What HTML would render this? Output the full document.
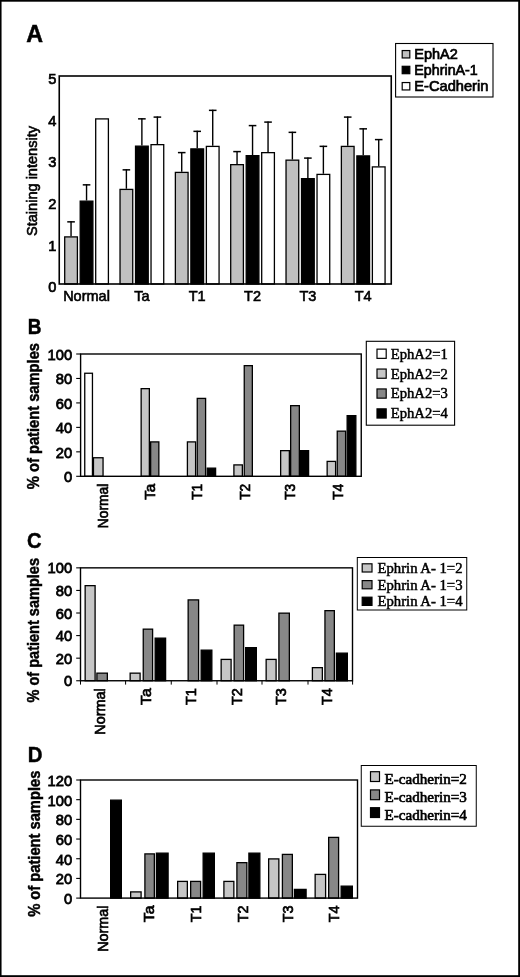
<!DOCTYPE html>
<html lang="en"><head><meta charset="utf-8"><title>Figure</title>
<style>
html,body{margin:0;padding:0;background:#fff;}
body{width:520px;height:977px;overflow:hidden;}
svg{display:block;}
.fs{font-family:"Liberation Sans", Arial, Helvetica, sans-serif;fill:#000;}
.fr{font-family:"Liberation Serif", "Times New Roman", Times, serif;fill:#000;}
</style></head><body>
<svg width="520" height="977" viewBox="0 0 520 977">
<rect width="520" height="977" fill="#fff"/>
<rect x="0" y="0" width="520" height="1.7" fill="#000"/>
<rect x="0" y="0" width="1.55" height="977" fill="#000"/>
<rect x="518.2" y="0" width="1.8" height="977" fill="#000"/>
<rect x="0" y="975.2" width="520" height="1.8" fill="#000"/>
<text class="fs" x="26.3" y="41.6" font-size="23.2" font-weight="bold" stroke="#000" stroke-width="0.5">A</text>
<rect x="64.70" y="236.90" width="12.70" height="47.10" fill="#c0c0c0" stroke="#000" stroke-width="1.3"/>
<line x1="71.05" y1="236.25" x2="71.05" y2="221.25" stroke="#000" stroke-width="1.4"/>
<line x1="67.25" y1="221.85" x2="74.85" y2="221.85" stroke="#000" stroke-width="1.5"/>
<rect x="80.20" y="201.15" width="12.70" height="82.85" fill="#000" stroke="#000" stroke-width="1.3"/>
<line x1="86.55" y1="200.50" x2="86.55" y2="184.25" stroke="#000" stroke-width="1.4"/>
<line x1="82.75" y1="184.85" x2="90.35" y2="184.85" stroke="#000" stroke-width="1.5"/>
<rect x="95.70" y="118.90" width="12.70" height="165.10" fill="#fff" stroke="#000" stroke-width="1.3"/>
<rect x="120.03" y="189.40" width="12.70" height="94.60" fill="#c0c0c0" stroke="#000" stroke-width="1.3"/>
<line x1="126.38" y1="188.75" x2="126.38" y2="169.25" stroke="#000" stroke-width="1.4"/>
<line x1="122.58" y1="169.85" x2="130.18" y2="169.85" stroke="#000" stroke-width="1.5"/>
<rect x="135.53" y="146.15" width="12.70" height="137.85" fill="#000" stroke="#000" stroke-width="1.3"/>
<line x1="141.88" y1="145.50" x2="141.88" y2="118.25" stroke="#000" stroke-width="1.4"/>
<line x1="138.08" y1="118.85" x2="145.68" y2="118.85" stroke="#000" stroke-width="1.5"/>
<rect x="151.03" y="144.65" width="12.70" height="139.35" fill="#fff" stroke="#000" stroke-width="1.3"/>
<line x1="157.38" y1="144.00" x2="157.38" y2="116.50" stroke="#000" stroke-width="1.4"/>
<line x1="153.58" y1="117.10" x2="161.18" y2="117.10" stroke="#000" stroke-width="1.5"/>
<rect x="175.37" y="172.40" width="12.70" height="111.60" fill="#c0c0c0" stroke="#000" stroke-width="1.3"/>
<line x1="181.72" y1="171.75" x2="181.72" y2="152.00" stroke="#000" stroke-width="1.4"/>
<line x1="177.92" y1="152.60" x2="185.52" y2="152.60" stroke="#000" stroke-width="1.5"/>
<rect x="190.87" y="148.90" width="12.70" height="135.10" fill="#000" stroke="#000" stroke-width="1.3"/>
<line x1="197.22" y1="148.25" x2="197.22" y2="130.75" stroke="#000" stroke-width="1.4"/>
<line x1="193.42" y1="131.35" x2="201.02" y2="131.35" stroke="#000" stroke-width="1.5"/>
<rect x="206.37" y="146.40" width="12.70" height="137.60" fill="#fff" stroke="#000" stroke-width="1.3"/>
<line x1="212.72" y1="145.75" x2="212.72" y2="109.75" stroke="#000" stroke-width="1.4"/>
<line x1="208.92" y1="110.35" x2="216.52" y2="110.35" stroke="#000" stroke-width="1.5"/>
<rect x="230.70" y="164.65" width="12.70" height="119.35" fill="#c0c0c0" stroke="#000" stroke-width="1.3"/>
<line x1="237.05" y1="164.00" x2="237.05" y2="151.00" stroke="#000" stroke-width="1.4"/>
<line x1="233.25" y1="151.60" x2="240.85" y2="151.60" stroke="#000" stroke-width="1.5"/>
<rect x="246.20" y="155.65" width="12.70" height="128.35" fill="#000" stroke="#000" stroke-width="1.3"/>
<line x1="252.55" y1="155.00" x2="252.55" y2="125.00" stroke="#000" stroke-width="1.4"/>
<line x1="248.75" y1="125.60" x2="256.35" y2="125.60" stroke="#000" stroke-width="1.5"/>
<rect x="261.70" y="152.65" width="12.70" height="131.35" fill="#fff" stroke="#000" stroke-width="1.3"/>
<line x1="268.05" y1="152.00" x2="268.05" y2="121.50" stroke="#000" stroke-width="1.4"/>
<line x1="264.25" y1="122.10" x2="271.85" y2="122.10" stroke="#000" stroke-width="1.5"/>
<rect x="286.03" y="160.15" width="12.70" height="123.85" fill="#c0c0c0" stroke="#000" stroke-width="1.3"/>
<line x1="292.38" y1="159.50" x2="292.38" y2="131.75" stroke="#000" stroke-width="1.4"/>
<line x1="288.58" y1="132.35" x2="296.18" y2="132.35" stroke="#000" stroke-width="1.5"/>
<rect x="301.53" y="178.65" width="12.70" height="105.35" fill="#000" stroke="#000" stroke-width="1.3"/>
<line x1="307.88" y1="178.00" x2="307.88" y2="157.50" stroke="#000" stroke-width="1.4"/>
<line x1="304.08" y1="158.10" x2="311.68" y2="158.10" stroke="#000" stroke-width="1.5"/>
<rect x="317.03" y="174.40" width="12.70" height="109.60" fill="#fff" stroke="#000" stroke-width="1.3"/>
<line x1="323.38" y1="173.75" x2="323.38" y2="145.75" stroke="#000" stroke-width="1.4"/>
<line x1="319.58" y1="146.35" x2="327.18" y2="146.35" stroke="#000" stroke-width="1.5"/>
<rect x="341.37" y="146.40" width="12.70" height="137.60" fill="#c0c0c0" stroke="#000" stroke-width="1.3"/>
<line x1="347.72" y1="145.75" x2="347.72" y2="116.50" stroke="#000" stroke-width="1.4"/>
<line x1="343.92" y1="117.10" x2="351.52" y2="117.10" stroke="#000" stroke-width="1.5"/>
<rect x="356.87" y="155.90" width="12.70" height="128.10" fill="#000" stroke="#000" stroke-width="1.3"/>
<line x1="363.22" y1="155.25" x2="363.22" y2="128.25" stroke="#000" stroke-width="1.4"/>
<line x1="359.42" y1="128.85" x2="367.02" y2="128.85" stroke="#000" stroke-width="1.5"/>
<rect x="372.37" y="166.90" width="12.70" height="117.10" fill="#fff" stroke="#000" stroke-width="1.3"/>
<line x1="378.72" y1="166.25" x2="378.72" y2="139.00" stroke="#000" stroke-width="1.4"/>
<line x1="374.92" y1="139.60" x2="382.52" y2="139.60" stroke="#000" stroke-width="1.5"/>
<rect x="59.25" y="76" width="332.0" height="208" fill="none" stroke="#000" stroke-width="1.6"/>
<text class="fs" x="56.4" y="292.1" font-size="14.6" text-anchor="end" stroke="#000" stroke-width="0.7">0</text>
<text class="fs" x="56.4" y="250.5" font-size="14.6" text-anchor="end" stroke="#000" stroke-width="0.7">1</text>
<text class="fs" x="56.4" y="208.9" font-size="14.6" text-anchor="end" stroke="#000" stroke-width="0.7">2</text>
<text class="fs" x="56.4" y="167.3" font-size="14.6" text-anchor="end" stroke="#000" stroke-width="0.7">3</text>
<text class="fs" x="56.4" y="125.7" font-size="14.6" text-anchor="end" stroke="#000" stroke-width="0.7">4</text>
<text class="fs" x="56.4" y="84.1" font-size="14.6" text-anchor="end" stroke="#000" stroke-width="0.7">5</text>
<text class="fs" x="0" y="0" transform="translate(37.2,181) rotate(-90)" font-size="14.5" text-anchor="middle" textLength="110" lengthAdjust="spacingAndGlyphs" stroke="#000" stroke-width="0.6">Staining intensity</text>
<text class="fs" x="86.52" y="301.3" font-size="14.5" text-anchor="middle" stroke="#000" stroke-width="0.6">Normal</text>
<text class="fs" x="141.85" y="301.3" font-size="14.5" text-anchor="middle" stroke="#000" stroke-width="0.6">Ta</text>
<text class="fs" x="197.18" y="301.3" font-size="14.5" text-anchor="middle" stroke="#000" stroke-width="0.6">T1</text>
<text class="fs" x="252.52" y="301.3" font-size="14.5" text-anchor="middle" stroke="#000" stroke-width="0.6">T2</text>
<text class="fs" x="307.85" y="301.3" font-size="14.5" text-anchor="middle" stroke="#000" stroke-width="0.6">T3</text>
<text class="fs" x="363.18" y="301.3" font-size="14.5" text-anchor="middle" stroke="#000" stroke-width="0.6">T4</text>
<rect x="395.6" y="43.5" width="97.39999999999998" height="53.5" fill="none" stroke="#000" stroke-width="1.1"/>
<rect x="402.2" y="50.55" width="7.6" height="7.4" fill="#c0c0c0" stroke="#000" stroke-width="1.2"/>
<text class="fs" x="414.3" y="59.25" font-size="14.5" textLength="43.5" lengthAdjust="spacingAndGlyphs" stroke="#000" stroke-width="0.7">EphA2</text>
<rect x="402.2" y="66.3" width="7.6" height="7.4" fill="#000" stroke="#000" stroke-width="1.2"/>
<text class="fs" x="414.3" y="75.0" font-size="14.5" textLength="63.5" lengthAdjust="spacingAndGlyphs" stroke="#000" stroke-width="0.7">EphrinA-1</text>
<rect x="402.2" y="82.55" width="7.6" height="7.4" fill="#fff" stroke="#000" stroke-width="1.2"/>
<text class="fs" x="414.3" y="91.25" font-size="14.5" textLength="74" lengthAdjust="spacingAndGlyphs" stroke="#000" stroke-width="0.7">E-Cadherin</text>
<text class="fs" x="27.8" y="333.6" font-size="22" font-weight="bold" textLength="13.7" lengthAdjust="spacingAndGlyphs" stroke="#000" stroke-width="0.5">B</text>
<rect x="84.75" y="373.25" width="7.70" height="103.05" fill="#fff" stroke="#000" stroke-width="1.3"/>
<rect x="93.45" y="457.75" width="9.60" height="18.55" fill="#c6c6c6" stroke="#000" stroke-width="1.3"/>
<rect x="141.15" y="388.65" width="8.20" height="87.65" fill="#c6c6c6" stroke="#000" stroke-width="1.3"/>
<rect x="150.65" y="441.90" width="8.20" height="34.40" fill="#878787" stroke="#000" stroke-width="1.3"/>
<rect x="187.40" y="441.90" width="8.20" height="34.40" fill="#c6c6c6" stroke="#000" stroke-width="1.3"/>
<rect x="197.25" y="398.40" width="8.35" height="77.90" fill="#878787" stroke="#000" stroke-width="1.3"/>
<rect x="207.25" y="468.15" width="8.35" height="8.15" fill="#000" stroke="#000" stroke-width="1.3"/>
<rect x="233.90" y="464.90" width="8.45" height="11.40" fill="#c6c6c6" stroke="#000" stroke-width="1.3"/>
<rect x="244.25" y="365.65" width="8.10" height="110.65" fill="#878787" stroke="#000" stroke-width="1.3"/>
<rect x="280.65" y="450.65" width="8.70" height="25.65" fill="#c6c6c6" stroke="#000" stroke-width="1.3"/>
<rect x="290.65" y="405.65" width="8.70" height="70.65" fill="#878787" stroke="#000" stroke-width="1.3"/>
<rect x="300.65" y="450.65" width="7.95" height="25.65" fill="#000" stroke="#000" stroke-width="1.3"/>
<rect x="327.15" y="461.40" width="8.45" height="14.90" fill="#c6c6c6" stroke="#000" stroke-width="1.3"/>
<rect x="337.25" y="431.15" width="8.35" height="45.15" fill="#878787" stroke="#000" stroke-width="1.3"/>
<rect x="347.15" y="415.65" width="8.70" height="60.65" fill="#000" stroke="#000" stroke-width="1.3"/>
<rect x="80.6" y="354" width="280.65" height="122.30000000000001" fill="none" stroke="#000" stroke-width="1.4"/>
<line x1="76.20" y1="476.30" x2="80.60" y2="476.30" stroke="#000" stroke-width="1.1"/>
<text class="fs" x="0" y="0" transform="translate(72.2,482.1) scale(0.96,1)" font-size="15.4" text-anchor="end" stroke="#000" stroke-width="0.8">0</text>
<line x1="76.20" y1="451.84" x2="80.60" y2="451.84" stroke="#000" stroke-width="1.1"/>
<text class="fs" x="0" y="0" transform="translate(72.2,457.64) scale(0.96,1)" font-size="15.4" text-anchor="end" stroke="#000" stroke-width="0.8">20</text>
<line x1="76.20" y1="427.38" x2="80.60" y2="427.38" stroke="#000" stroke-width="1.1"/>
<text class="fs" x="0" y="0" transform="translate(72.2,433.18) scale(0.96,1)" font-size="15.4" text-anchor="end" stroke="#000" stroke-width="0.8">40</text>
<line x1="76.20" y1="402.92" x2="80.60" y2="402.92" stroke="#000" stroke-width="1.1"/>
<text class="fs" x="0" y="0" transform="translate(72.2,408.72) scale(0.96,1)" font-size="15.4" text-anchor="end" stroke="#000" stroke-width="0.8">60</text>
<line x1="76.20" y1="378.46" x2="80.60" y2="378.46" stroke="#000" stroke-width="1.1"/>
<text class="fs" x="0" y="0" transform="translate(72.2,384.26) scale(0.96,1)" font-size="15.4" text-anchor="end" stroke="#000" stroke-width="0.8">80</text>
<line x1="76.20" y1="354.00" x2="80.60" y2="354.00" stroke="#000" stroke-width="1.1"/>
<text class="fs" x="0" y="0" transform="translate(72.2,359.8) scale(0.96,1)" font-size="15.4" text-anchor="end" stroke="#000" stroke-width="0.8">100</text>
<text class="fs" x="0" y="0" transform="translate(39.3,416.1) rotate(-90)" font-size="15.6" text-anchor="middle" font-weight="bold" textLength="146.2" lengthAdjust="spacingAndGlyphs" stroke="#000" stroke-width="0.45">% of patient samples</text>
<text class="fs" x="0" y="0" transform="translate(108.3,483.8) rotate(-90)" font-size="15.0" text-anchor="end" textLength="44.37" lengthAdjust="spacingAndGlyphs" stroke="#000" stroke-width="0.7">Normal</text>
<text class="fs" x="0" y="0" transform="translate(155.1,483.8) rotate(-90)" font-size="15.0" text-anchor="end" textLength="16.07" lengthAdjust="spacingAndGlyphs" stroke="#000" stroke-width="0.7">Ta</text>
<text class="fs" x="0" y="0" transform="translate(202.1,483.8) rotate(-90)" font-size="15.0" text-anchor="end" textLength="16.07" lengthAdjust="spacingAndGlyphs" stroke="#000" stroke-width="0.7">T1</text>
<text class="fs" x="0" y="0" transform="translate(249.5,483.8) rotate(-90)" font-size="15.0" text-anchor="end" textLength="16.07" lengthAdjust="spacingAndGlyphs" stroke="#000" stroke-width="0.7">T2</text>
<text class="fs" x="0" y="0" transform="translate(295.4,483.8) rotate(-90)" font-size="15.0" text-anchor="end" textLength="16.07" lengthAdjust="spacingAndGlyphs" stroke="#000" stroke-width="0.7">T3</text>
<text class="fs" x="0" y="0" transform="translate(342.8,483.8) rotate(-90)" font-size="15.0" text-anchor="end" textLength="16.07" lengthAdjust="spacingAndGlyphs" stroke="#000" stroke-width="0.7">T4</text>
<rect x="366.3" y="341.3" width="88.30000000000001" height="83.89999999999998" fill="none" stroke="#000" stroke-width="1.1"/>
<rect x="377.0" y="349.15" width="9.2" height="9.2" fill="#fff" stroke="#000" stroke-width="1.2"/>
<text class="fr" x="0" y="0" transform="translate(390.8,358.65) scale(1,0.93)" font-size="14.7" textLength="57" lengthAdjust="spacingAndGlyphs" stroke="#000" stroke-width="0.5">EphA2=1</text>
<rect x="377.0" y="369.04999999999995" width="9.2" height="9.2" fill="#c6c6c6" stroke="#000" stroke-width="1.2"/>
<text class="fr" x="0" y="0" transform="translate(390.8,378.54999999999995) scale(1,0.93)" font-size="14.7" textLength="57" lengthAdjust="spacingAndGlyphs" stroke="#000" stroke-width="0.5">EphA2=2</text>
<rect x="377.0" y="388.95" width="9.2" height="9.2" fill="#878787" stroke="#000" stroke-width="1.2"/>
<text class="fr" x="0" y="0" transform="translate(390.8,398.45) scale(1,0.93)" font-size="14.7" textLength="57" lengthAdjust="spacingAndGlyphs" stroke="#000" stroke-width="0.5">EphA2=3</text>
<rect x="377.0" y="408.84999999999997" width="9.2" height="9.2" fill="#000" stroke="#000" stroke-width="1.2"/>
<text class="fr" x="0" y="0" transform="translate(390.8,418.34999999999997) scale(1,0.93)" font-size="14.7" textLength="57" lengthAdjust="spacingAndGlyphs" stroke="#000" stroke-width="0.5">EphA2=4</text>
<text class="fs" x="26.9" y="547.5" font-size="22.5" font-weight="bold" textLength="14.5" lengthAdjust="spacingAndGlyphs" stroke="#000" stroke-width="0.5">C</text>
<rect x="85.15" y="585.65" width="9.95" height="95.10" fill="#c6c6c6" stroke="#000" stroke-width="1.3"/>
<rect x="96.90" y="673.15" width="10.45" height="7.60" fill="#878787" stroke="#000" stroke-width="1.3"/>
<rect x="130.15" y="673.15" width="9.95" height="7.60" fill="#c6c6c6" stroke="#000" stroke-width="1.3"/>
<rect x="143.25" y="629.15" width="9.35" height="51.60" fill="#878787" stroke="#000" stroke-width="1.3"/>
<rect x="155.15" y="638.15" width="10.45" height="42.60" fill="#000" stroke="#000" stroke-width="1.3"/>
<rect x="188.15" y="599.90" width="10.45" height="80.85" fill="#878787" stroke="#000" stroke-width="1.3"/>
<rect x="201.15" y="650.15" width="10.70" height="30.60" fill="#000" stroke="#000" stroke-width="1.3"/>
<rect x="221.15" y="659.40" width="9.95" height="21.35" fill="#c6c6c6" stroke="#000" stroke-width="1.3"/>
<rect x="234.15" y="625.15" width="9.45" height="55.60" fill="#878787" stroke="#000" stroke-width="1.3"/>
<rect x="245.65" y="647.65" width="10.70" height="33.10" fill="#000" stroke="#000" stroke-width="1.3"/>
<rect x="266.15" y="659.40" width="9.95" height="21.35" fill="#c6c6c6" stroke="#000" stroke-width="1.3"/>
<rect x="278.90" y="613.15" width="10.45" height="67.60" fill="#878787" stroke="#000" stroke-width="1.3"/>
<rect x="312.40" y="667.65" width="9.95" height="13.10" fill="#c6c6c6" stroke="#000" stroke-width="1.3"/>
<rect x="324.95" y="610.65" width="9.40" height="70.10" fill="#878787" stroke="#000" stroke-width="1.3"/>
<rect x="336.40" y="653.15" width="10.95" height="27.60" fill="#000" stroke="#000" stroke-width="1.3"/>
<rect x="80.5" y="567.85" width="272.0" height="112.89999999999998" fill="none" stroke="#000" stroke-width="1.4"/>
<line x1="76.20" y1="680.75" x2="80.50" y2="680.75" stroke="#000" stroke-width="1.1"/>
<text class="fs" x="0" y="0" transform="translate(72.2,686.25) scale(0.96,1)" font-size="15.4" text-anchor="end" stroke="#000" stroke-width="0.8">0</text>
<line x1="76.20" y1="658.17" x2="80.50" y2="658.17" stroke="#000" stroke-width="1.1"/>
<text class="fs" x="0" y="0" transform="translate(72.2,663.67) scale(0.96,1)" font-size="15.4" text-anchor="end" stroke="#000" stroke-width="0.8">20</text>
<line x1="76.20" y1="635.59" x2="80.50" y2="635.59" stroke="#000" stroke-width="1.1"/>
<text class="fs" x="0" y="0" transform="translate(72.2,641.09) scale(0.96,1)" font-size="15.4" text-anchor="end" stroke="#000" stroke-width="0.8">40</text>
<line x1="76.20" y1="613.01" x2="80.50" y2="613.01" stroke="#000" stroke-width="1.1"/>
<text class="fs" x="0" y="0" transform="translate(72.2,618.51) scale(0.96,1)" font-size="15.4" text-anchor="end" stroke="#000" stroke-width="0.8">60</text>
<line x1="76.20" y1="590.43" x2="80.50" y2="590.43" stroke="#000" stroke-width="1.1"/>
<text class="fs" x="0" y="0" transform="translate(72.2,595.93) scale(0.96,1)" font-size="15.4" text-anchor="end" stroke="#000" stroke-width="0.8">80</text>
<line x1="76.20" y1="567.85" x2="80.50" y2="567.85" stroke="#000" stroke-width="1.1"/>
<text class="fs" x="0" y="0" transform="translate(72.2,573.35) scale(0.96,1)" font-size="15.4" text-anchor="end" stroke="#000" stroke-width="0.8">100</text>
<line x1="80.50" y1="680.75" x2="80.50" y2="684.60" stroke="#000" stroke-width="1.0"/>
<line x1="125.60" y1="680.75" x2="125.60" y2="684.60" stroke="#000" stroke-width="1.0"/>
<line x1="171.25" y1="680.75" x2="171.25" y2="684.60" stroke="#000" stroke-width="1.0"/>
<line x1="217.00" y1="680.75" x2="217.00" y2="684.60" stroke="#000" stroke-width="1.0"/>
<line x1="262.00" y1="680.75" x2="262.00" y2="684.60" stroke="#000" stroke-width="1.0"/>
<line x1="308.00" y1="680.75" x2="308.00" y2="684.60" stroke="#000" stroke-width="1.0"/>
<line x1="352.60" y1="680.75" x2="352.60" y2="684.60" stroke="#000" stroke-width="1.0"/>
<text class="fs" x="0" y="0" transform="translate(39.3,630.25) rotate(-90)" font-size="15.6" text-anchor="middle" font-weight="bold" textLength="144.5" lengthAdjust="spacingAndGlyphs" stroke="#000" stroke-width="0.45">% of patient samples</text>
<text class="fs" x="0" y="0" transform="translate(105.4,688.2) rotate(-90)" font-size="15.0" text-anchor="end" textLength="46.49" lengthAdjust="spacingAndGlyphs" stroke="#000" stroke-width="0.7">Normal</text>
<text class="fs" x="0" y="0" transform="translate(151.2,688.2) rotate(-90)" font-size="15.0" text-anchor="end" textLength="16.84" lengthAdjust="spacingAndGlyphs" stroke="#000" stroke-width="0.7">Ta</text>
<text class="fs" x="0" y="0" transform="translate(195.8,688.2) rotate(-90)" font-size="15.0" text-anchor="end" textLength="16.84" lengthAdjust="spacingAndGlyphs" stroke="#000" stroke-width="0.7">T1</text>
<text class="fs" x="0" y="0" transform="translate(241.8,688.2) rotate(-90)" font-size="15.0" text-anchor="end" textLength="16.84" lengthAdjust="spacingAndGlyphs" stroke="#000" stroke-width="0.7">T2</text>
<text class="fs" x="0" y="0" transform="translate(286.4,688.2) rotate(-90)" font-size="15.0" text-anchor="end" textLength="16.84" lengthAdjust="spacingAndGlyphs" stroke="#000" stroke-width="0.7">T3</text>
<text class="fs" x="0" y="0" transform="translate(331.9,688.2) rotate(-90)" font-size="15.0" text-anchor="end" textLength="16.84" lengthAdjust="spacingAndGlyphs" stroke="#000" stroke-width="0.7">T4</text>
<rect x="357.3" y="557.5" width="109.44999999999999" height="52.5" fill="none" stroke="#000" stroke-width="1.0"/>
<rect x="362.2" y="563.8" width="9.8" height="8.2" fill="#c6c6c6" stroke="#000" stroke-width="1.2"/>
<text class="fr" x="0" y="0" transform="translate(377.5,572.8) scale(1,0.93)" font-size="14.6" textLength="85" lengthAdjust="spacingAndGlyphs" stroke="#000" stroke-width="0.5">Ephrin A- 1=2</text>
<rect x="362.2" y="580.6" width="9.8" height="8.2" fill="#878787" stroke="#000" stroke-width="1.2"/>
<text class="fr" x="0" y="0" transform="translate(377.5,589.6) scale(1,0.93)" font-size="14.6" textLength="85" lengthAdjust="spacingAndGlyphs" stroke="#000" stroke-width="0.5">Ephrin A- 1=3</text>
<rect x="362.2" y="597.2" width="9.8" height="8.2" fill="#000" stroke="#000" stroke-width="1.2"/>
<text class="fr" x="0" y="0" transform="translate(377.5,606.2) scale(1,0.93)" font-size="14.6" textLength="85" lengthAdjust="spacingAndGlyphs" stroke="#000" stroke-width="0.5">Ephrin A- 1=4</text>
<text class="fs" x="27.7" y="762.3" font-size="22.4" font-weight="bold" textLength="14.7" lengthAdjust="spacingAndGlyphs" stroke="#000" stroke-width="0.5">D</text>
<rect x="110.65" y="800.15" width="10.70" height="97.95" fill="#000" stroke="#000" stroke-width="1.3"/>
<rect x="130.65" y="891.90" width="10.45" height="6.20" fill="#c6c6c6" stroke="#000" stroke-width="1.3"/>
<rect x="144.90" y="853.90" width="9.45" height="44.20" fill="#878787" stroke="#000" stroke-width="1.3"/>
<rect x="156.40" y="853.15" width="11.70" height="44.95" fill="#000" stroke="#000" stroke-width="1.3"/>
<rect x="177.65" y="881.40" width="9.70" height="16.70" fill="#c6c6c6" stroke="#000" stroke-width="1.3"/>
<rect x="190.65" y="881.40" width="9.95" height="16.70" fill="#878787" stroke="#000" stroke-width="1.3"/>
<rect x="203.15" y="853.15" width="11.20" height="44.95" fill="#000" stroke="#000" stroke-width="1.3"/>
<rect x="223.90" y="881.40" width="9.95" height="16.70" fill="#c6c6c6" stroke="#000" stroke-width="1.3"/>
<rect x="236.90" y="862.65" width="9.95" height="35.45" fill="#878787" stroke="#000" stroke-width="1.3"/>
<rect x="248.90" y="853.15" width="10.95" height="44.95" fill="#000" stroke="#000" stroke-width="1.3"/>
<rect x="268.65" y="858.90" width="10.20" height="39.20" fill="#c6c6c6" stroke="#000" stroke-width="1.3"/>
<rect x="282.40" y="854.40" width="9.95" height="43.70" fill="#878787" stroke="#000" stroke-width="1.3"/>
<rect x="294.40" y="889.40" width="11.70" height="8.70" fill="#000" stroke="#000" stroke-width="1.3"/>
<rect x="315.15" y="874.40" width="10.45" height="23.70" fill="#c6c6c6" stroke="#000" stroke-width="1.3"/>
<rect x="328.65" y="837.40" width="9.95" height="60.70" fill="#878787" stroke="#000" stroke-width="1.3"/>
<rect x="341.15" y="886.15" width="11.20" height="11.95" fill="#000" stroke="#000" stroke-width="1.3"/>
<rect x="80.5" y="780" width="277.0" height="118.10000000000002" fill="none" stroke="#000" stroke-width="1.4"/>
<line x1="76.20" y1="898.10" x2="80.50" y2="898.10" stroke="#000" stroke-width="1.1"/>
<text class="fs" x="0" y="0" transform="translate(72.2,904.1) scale(0.96,1)" font-size="15.4" text-anchor="end" stroke="#000" stroke-width="0.8">0</text>
<line x1="76.20" y1="878.42" x2="80.50" y2="878.42" stroke="#000" stroke-width="1.1"/>
<text class="fs" x="0" y="0" transform="translate(72.2,884.42) scale(0.96,1)" font-size="15.4" text-anchor="end" stroke="#000" stroke-width="0.8">20</text>
<line x1="76.20" y1="858.73" x2="80.50" y2="858.73" stroke="#000" stroke-width="1.1"/>
<text class="fs" x="0" y="0" transform="translate(72.2,864.73) scale(0.96,1)" font-size="15.4" text-anchor="end" stroke="#000" stroke-width="0.8">40</text>
<line x1="76.20" y1="839.05" x2="80.50" y2="839.05" stroke="#000" stroke-width="1.1"/>
<text class="fs" x="0" y="0" transform="translate(72.2,845.05) scale(0.96,1)" font-size="15.4" text-anchor="end" stroke="#000" stroke-width="0.8">60</text>
<line x1="76.20" y1="819.37" x2="80.50" y2="819.37" stroke="#000" stroke-width="1.1"/>
<text class="fs" x="0" y="0" transform="translate(72.2,825.37) scale(0.96,1)" font-size="15.4" text-anchor="end" stroke="#000" stroke-width="0.8">80</text>
<line x1="76.20" y1="799.68" x2="80.50" y2="799.68" stroke="#000" stroke-width="1.1"/>
<text class="fs" x="0" y="0" transform="translate(72.2,805.68) scale(0.96,1)" font-size="15.4" text-anchor="end" stroke="#000" stroke-width="0.8">100</text>
<line x1="76.20" y1="780.00" x2="80.50" y2="780.00" stroke="#000" stroke-width="1.1"/>
<text class="fs" x="0" y="0" transform="translate(72.2,786.0) scale(0.96,1)" font-size="15.4" text-anchor="end" stroke="#000" stroke-width="0.8">120</text>
<text class="fs" x="0" y="0" transform="translate(40.2,843.75) rotate(-90)" font-size="15.6" text-anchor="middle" font-weight="bold" textLength="146.1" lengthAdjust="spacingAndGlyphs" stroke="#000" stroke-width="0.45">% of patient samples</text>
<text class="fs" x="0" y="0" transform="translate(108.1,905.5) rotate(-90)" font-size="15.0" text-anchor="end" textLength="46.25" lengthAdjust="spacingAndGlyphs" stroke="#000" stroke-width="0.7">Normal</text>
<text class="fs" x="0" y="0" transform="translate(153.85,905.5) rotate(-90)" font-size="15.0" text-anchor="end" textLength="16.75" lengthAdjust="spacingAndGlyphs" stroke="#000" stroke-width="0.7">Ta</text>
<text class="fs" x="0" y="0" transform="translate(200.85,905.5) rotate(-90)" font-size="15.0" text-anchor="end" textLength="16.75" lengthAdjust="spacingAndGlyphs" stroke="#000" stroke-width="0.7">T1</text>
<text class="fs" x="0" y="0" transform="translate(248.1,905.5) rotate(-90)" font-size="15.0" text-anchor="end" textLength="16.75" lengthAdjust="spacingAndGlyphs" stroke="#000" stroke-width="0.7">T2</text>
<text class="fs" x="0" y="0" transform="translate(292.85,905.5) rotate(-90)" font-size="15.0" text-anchor="end" textLength="16.75" lengthAdjust="spacingAndGlyphs" stroke="#000" stroke-width="0.7">T3</text>
<text class="fs" x="0" y="0" transform="translate(338.85,905.5) rotate(-90)" font-size="15.0" text-anchor="end" textLength="16.75" lengthAdjust="spacingAndGlyphs" stroke="#000" stroke-width="0.7">T4</text>
<rect x="361.25" y="765.5" width="115.0" height="60.75" fill="none" stroke="#000" stroke-width="1.0"/>
<rect x="370.5" y="771.7" width="9" height="9.8" fill="#c6c6c6" stroke="#000" stroke-width="1.2"/>
<text class="fr" x="0" y="0" transform="translate(384.5,784) scale(1,0.93)" font-size="15" textLength="82.25" lengthAdjust="spacingAndGlyphs" stroke="#000" stroke-width="0.65">E-cadherin=2</text>
<rect x="370.5" y="789.9" width="9" height="9.8" fill="#878787" stroke="#000" stroke-width="1.2"/>
<text class="fr" x="0" y="0" transform="translate(384.5,802) scale(1,0.93)" font-size="15" textLength="82.25" lengthAdjust="spacingAndGlyphs" stroke="#000" stroke-width="0.65">E-cadherin=3</text>
<rect x="370.5" y="807.7" width="9" height="9.8" fill="#000" stroke="#000" stroke-width="1.2"/>
<text class="fr" x="0" y="0" transform="translate(384.5,820) scale(1,0.93)" font-size="15" textLength="82.25" lengthAdjust="spacingAndGlyphs" stroke="#000" stroke-width="0.65">E-cadherin=4</text>
</svg>
</body></html>
